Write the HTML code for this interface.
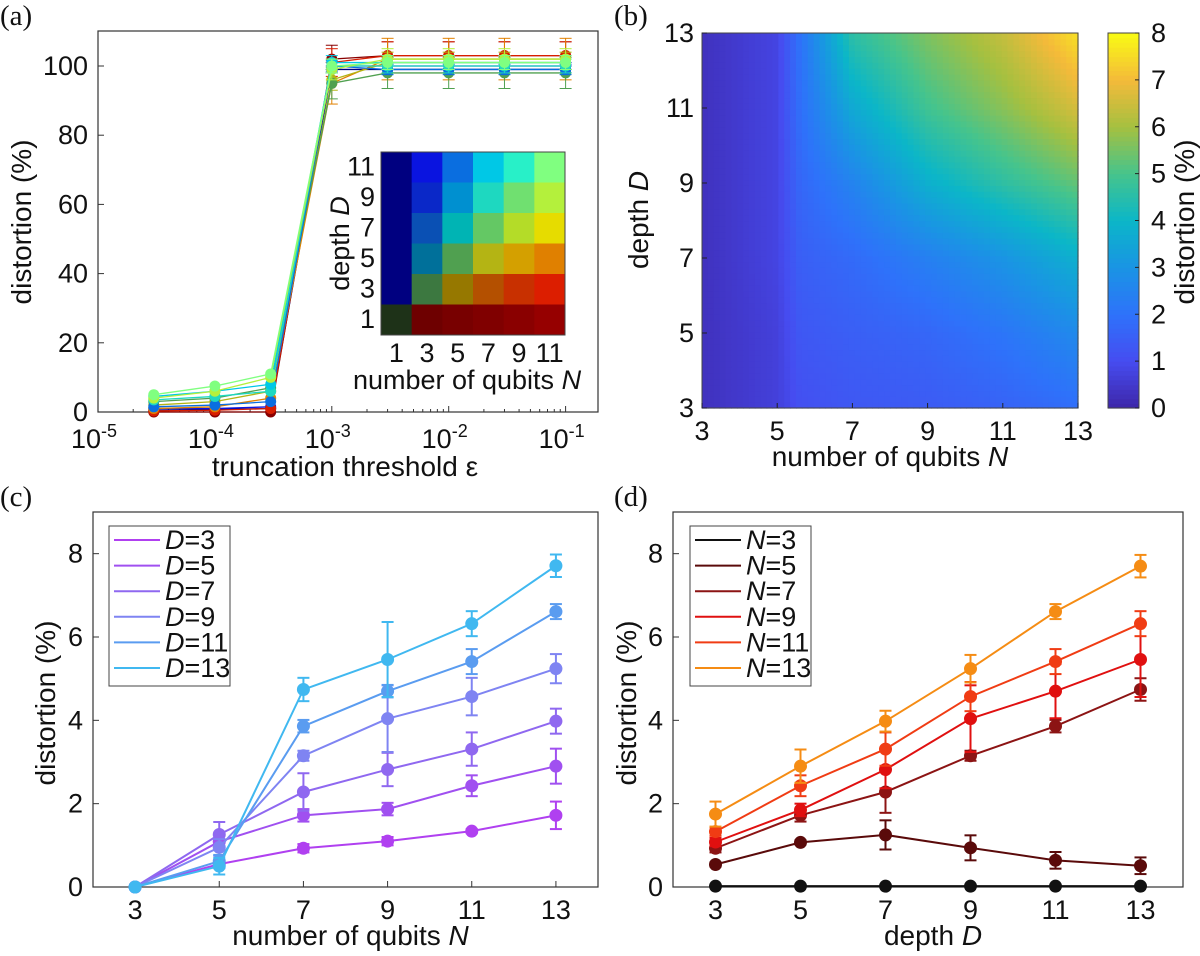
<!DOCTYPE html>
<html><head><meta charset="utf-8"><style>
html,body{margin:0;padding:0;background:#fff;}
svg{display:block;font-family:"Liberation Sans",sans-serif;}
.tk{font-size:27px;fill:#111;}
.lb{font-size:28px;fill:#111;}
.pl{font-family:"Liberation Serif",serif;font-size:29px;fill:#111;}
</style></head><body>
<svg id="fig" width="1200" height="956" viewBox="0 0 1200 956" xmlns="http://www.w3.org/2000/svg">
<text class="pl" x="0" y="25">(a)</text>
<text class="pl" x="614" y="25">(b)</text>
<text class="pl" x="0" y="506">(c)</text>
<text class="pl" x="614" y="506">(d)</text>
<g id="pa"></g>
<g id="pb"></g>
<g id="pc"></g>
<g id="pd"></g>
</svg>
<script>
// ---- panel (a) data ----
const epsVals = [3e-5, 1e-4, 3e-4, 1e-3, 3e-3, 1e-2, 3e-2, 1e-1];
const aColors = ['#000080','#0a14e0','#8a0000','#d81e00','#e08000','#b4b414','#50a050','#0a6ee0','#1ed8c0','#00c8e6','#b4f03c','#80ff80'];
const aSeries = [
 [0.5,0.8,1,99,99,99,99,99],
 [1,1,1.5,100,100,100,100,100],
 [0,0,0,102,103,103,103,103],
 [0.3,0.5,1,101,103,103,103,103],
 [1,1.5,4,95,102,102,102,102],
 [2,3,6,96,101,101,101,101],
 [3,4,7,95,98,98,98,98],
 [1.5,2,3,100,99,99,99,99],
 [3.5,4.5,6,100,100,100,100,100],
 [4.5,6,8,101,101,101,101,101],
 [4,6,10,99,102,102,102,102],
 [5,7.5,11,100,101,101,101,101]
];
const aErr = [1,1,4,4,6,3,4.5,1.5,2,2,3,2];
const aYTicks = [0,20,40,60,80,100];
const aXTicks = [-5,-4,-3,-2,-1];
const insetN = ['1','3','5','7','9','11'];
const insetD = ['11','9','7','5','3','1'];
const insetColors = [
 ['#000080','#0a14e0','#0a6ee0','#00c8e6','#28f0c8','#80ff80'],
 ['#000080','#0a28c8','#0090d0','#1ed8c0','#70e070','#b4f03c'],
 ['#000080','#0a50b4','#00b4b4','#64c864','#b4dc28','#e6dc00'],
 ['#000080','#00709a','#50a050','#b4b414','#d4a000','#e08000'],
 ['#000080','#3c7840','#967800','#b45000','#c83000','#dc1e00'],
 ['#1e3218','#6e0000','#780000','#800000','#8a0000','#960000']
];
// ---- panel (b) data ----
const hmN = [3,5,5.6,7,9,11,13];
const hmD = [3,5,7,9,11,13];
const hmVals = [
 [0.3,0.7,1.1,1.3,1.4,1.6,1.9],
 [0.3,0.7,1.3,1.5,1.7,2.1,2.7],
 [0.3,0.8,1.5,1.8,2.4,3.0,3.8],
 [0.3,0.8,1.7,2.5,3.8,4.6,5.3],
 [0.3,0.8,1.9,3.6,4.9,5.7,6.6],
 [0.3,0.8,2.0,4.6,5.6,6.4,7.6]
];
const hmTicks = [3,5,7,9,11,13];
const cbTicks = [0,1,2,3,4,5,6,7,8];
// ---- panel (c) data ----
const cN = [3,5,7,9,11,13];
const cLabels = ['3','5','7','9','11','13'];
const cColors = ['#b040f0','#a050f0','#8f68f0','#7f84f2','#5a9cf0','#40b8f0'];
const cVals = [
 [0,0.55,0.93,1.10,1.34,1.72],
 [0,1.09,1.72,1.87,2.43,2.90],
 [0,1.26,2.28,2.82,3.31,3.98],
 [0,0.95,3.15,4.04,4.57,5.24],
 [0,0.62,3.86,4.70,5.41,6.61],
 [0,0.50,4.74,5.46,6.32,7.71]
];
const cErr = [
 [0,0.1,0.1,0.1,0.05,0.33],
 [0,0.15,0.15,0.15,0.25,0.42],
 [0,0.3,0.45,0.4,0.4,0.3],
 [0,0.2,0.12,0.8,0.45,0.35],
 [0,0.15,0.15,0.15,0.3,0.18],
 [0,0.2,0.28,0.9,0.3,0.27]
];
// ---- panel (d) data ----
const dD = [3,5,7,9,11,13];
const dLabels = ['3','5','7','9','11','13'];
const dColors = ['#111111','#5a0a0a','#8c1414','#e01010','#f03c14','#f58c14'];
const dVals = [
 [0.02,0.02,0.02,0.02,0.02,0.02],
 [0.54,1.07,1.25,0.94,0.64,0.51],
 [0.93,1.72,2.28,3.15,3.86,4.74],
 [1.08,1.85,2.82,4.04,4.70,5.46],
 [1.33,2.43,3.31,4.57,5.41,6.32],
 [1.75,2.90,3.98,5.24,6.61,7.70]
];
const dErr = [
 [0,0,0,0,0,0],
 [0.05,0.05,0.35,0.3,0.2,0.2],
 [0.1,0.15,0.5,0.12,0.15,0.27],
 [0.1,0.15,0.45,0.8,0.65,0.9],
 [0.1,0.25,0.4,0.35,0.3,0.3],
 [0.3,0.4,0.25,0.33,0.18,0.27]
];
const yTicksCD = [0,2,4,6,8];

const NS='http://www.w3.org/2000/svg';
function mk(parent,tag,attrs,txt){const e=document.createElementNS(NS,tag);for(const k in attrs)e.setAttribute(k,attrs[k]);if(txt!==undefined)e.textContent=txt;parent.appendChild(e);return e;}

// ===== Panel A =====
(function(){
 const g=document.getElementById('pa');
 const L=98,R=598,T=31,B=412;
 const X=e=>L+(Math.log10(e)+5)*116.9;
 const Y=v=>B-(v/100)*(B-66);
 const frame=mk(g,'rect',{x:L,y:T,width:R-L,height:B-T,fill:'#fff',stroke:'#333','stroke-width':1.2});
 
 
 aYTicks.forEach(t=>{
  mk(g,'line',{x1:L,x2:L+6,y1:Y(t),y2:Y(t),stroke:'#333'});
  const tx=mk(g,'text',{class:'tk',x:L-10,y:Y(t)+9,'text-anchor':'end'},String(t));
  
  
 });
 aXTicks.forEach(p=>{
  const x=X(Math.pow(10,p));
  mk(g,'line',{x1:x,x2:x,y1:B,y2:B-6,stroke:'#333'});
  for(let k=2;k<10&&p<-1;k++){const xm=X(k*Math.pow(10,p));mk(g,'line',{x1:xm,x2:xm,y1:B,y2:B-3,stroke:'#333'});}
  const tx=mk(g,'text',{class:'tk',x:x-4,y:B+36,'text-anchor':'middle'});
  
  
  mk(tx,'tspan',{},'10');mk(tx,'tspan',{dy:-11,'font-size':'18'},String(p));
 });
 for(let i=0;i<aSeries.length;i++){
  const s=aSeries[i],c=aColors[i];
  const pts=s.map((v,j)=>X(epsVals[j])+','+Y(v)).join(' ');
  const pl=mk(g,'polyline',{points:pts,fill:'none',stroke:c,'stroke-width':1.3});
  
  
  s.forEach((v,j)=>{
   const x=X(epsVals[j]),y=Y(v);
   if(j>=3){const e=aErr[i];
    mk(g,'line',{x1:x,x2:x,y1:Y(v-e),y2:Y(v+e),stroke:c,'stroke-width':1});
    mk(g,'line',{x1:x-6,x2:x+6,y1:Y(v-e),y2:Y(v-e),stroke:c,'stroke-width':1});
    mk(g,'line',{x1:x-6,x2:x+6,y1:Y(v+e),y2:Y(v+e),stroke:c,'stroke-width':1});}
   const m=mk(g,'circle',{cx:x,cy:y,r:5.5,fill:c});
   
   
  });
 }
 const iL=381,iR=565,iT=152,iB=335,cw=(iR-iL)/6,ch=(iB-iT)/6;
 for(let r=0;r<6;r++)for(let c=0;c<6;c++){
  const cell=mk(g,'rect',{x:iL+c*cw,y:iT+r*ch,width:cw+0.5,height:ch+0.5,fill:insetColors[r][c]});
  
  
 }
 mk(g,'rect',{x:iL,y:iT,width:iR-iL,height:iB-iT,fill:'none',stroke:'#444','stroke-width':1});
 insetN.forEach((t,c)=>{const tx=mk(g,'text',{class:'tk',x:iL+(c+0.5)*cw,y:iB+27,'text-anchor':'middle','font-size':'22'},t);
  });
 insetD.forEach((t,r)=>{const tx=mk(g,'text',{class:'tk',x:iL-6,y:iT+(r+0.5)*ch+8,'text-anchor':'end','font-size':'22'},t);
  });
 const ixl=mk(g,'text',{class:'tk',x:(iL+iR)/2-6,y:iB+54,'text-anchor':'middle','font-size':'22'});
 
 mk(ixl,'tspan',{},'number of qubits ');mk(ixl,'tspan',{'font-style':'italic'},'N');
 const iyl=mk(g,'text',{class:'tk',transform:'translate(349,'+((iT+iB)/2)+') rotate(-90)','text-anchor':'middle','font-size':'22'});
 
 mk(iyl,'tspan',{},'depth ');mk(iyl,'tspan',{'font-style':'italic'},'D');
 const xl=mk(g,'text',{class:'lb',x:345,y:476,'text-anchor':'middle'},'truncation threshold ε');
 
 const yl=mk(g,'text',{class:'lb',transform:'translate(31,222) rotate(-90)','text-anchor':'middle'},'distortion (%)');
 
})();

// ===== Panel B =====
(function(){
 const g=document.getElementById('pb');
 const L=702,R=1078,T=33,B=408;
 const X=n=>L+(n-3)/10*(R-L), Y=d=>B-(d-3)/10*(B-T);
 const stops=[[0,[62,38,168]],[0.125,[70,76,240]],[0.25,[46,114,250]],[0.375,[26,148,228]],[0.5,[11,182,200]],[0.625,[70,196,140]],[0.75,[165,192,64]],[0.875,[244,186,58]],[1,[249,251,20]]];
 function cmap(t){t=Math.max(0,Math.min(1,t));for(let i=1;i<stops.length;i++){if(t<=stops[i][0]){const a=stops[i-1],b=stops[i],f=(t-a[0])/(b[0]-a[0]);return 'rgb('+a[1].map((v,k)=>Math.round(v+(b[1][k]-v)*f)).join(',')+')';}}return 'rgb(249,251,20)';}
 function idx(arr,v){let i=0;while(i<arr.length-2&&v>arr[i+1])i++;return i;}
 function interp(n,d){const i=idx(hmN,n),j=idx(hmD,d);
  const fx=(n-hmN[i])/(hmN[i+1]-hmN[i]),fy=(d-hmD[j])/(hmD[j+1]-hmD[j]);
  return hmVals[j][i]*(1-fx)*(1-fy)+hmVals[j][i+1]*fx*(1-fy)+hmVals[j+1][i]*(1-fx)*fy+hmVals[j+1][i+1]*fx*fy;}
 const steps=64,sw=(R-L)/steps,sh=(B-T)/steps;
 for(let a=0;a<steps;a++)for(let b=0;b<steps;b++){
  const n=3+(a+0.5)/steps*10,d=3+(b+0.5)/steps*10;
  const cell=mk(g,'rect',{x:L+a*sw,y:B-(b+1)*sh,width:sw+0.6,height:sh+0.6,fill:cmap(interp(n,d)/8)});
  
  
 }
 mk(g,'rect',{x:L,y:T,width:R-L,height:B-T,fill:'none',stroke:'#444','stroke-width':1});
 hmTicks.forEach(n=>{mk(g,'line',{x1:X(n),x2:X(n),y1:B,y2:B-5,stroke:'#222'});
  const tx=mk(g,'text',{class:'tk',x:X(n),y:B+32,'text-anchor':'middle'},String(n));
  });
 hmTicks.forEach(d=>{mk(g,'line',{x1:L,x2:L+5,y1:Y(d),y2:Y(d),stroke:'#222'});
  const tx=mk(g,'text',{class:'tk',x:L-8,y:Y(d)+9,'text-anchor':'end'},String(d));
  });
 const cL=1108,cR=1139,n=80,ch=(B-T)/n;
 for(let k=0;k<n;k++){const seg=mk(g,'rect',{x:cL,y:B-(k+1)*ch,width:cR-cL,height:ch+0.6,fill:cmap((k+0.5)/n)});
  }
 mk(g,'rect',{x:cL,y:T,width:cR-cL,height:B-T,fill:'none',stroke:'#444','stroke-width':1});
 cbTicks.forEach(t=>{const y=B-t/8*(B-T);mk(g,'line',{x1:cR-4,x2:cR,y1:y,y2:y,stroke:'#222'});
  const tx=mk(g,'text',{class:'tk',x:cR+12,y:y+9},String(t));
  });
 const cbl=mk(g,'text',{class:'lb',transform:'translate(1194,222) rotate(-90)','text-anchor':'middle','font-size':'25'},'distortion (%)');
 
 const xl=mk(g,'text',{class:'lb',x:890,y:466,'text-anchor':'middle'});
 
 mk(xl,'tspan',{},'number of qubits ');mk(xl,'tspan',{'font-style':'italic'},'N');
 const yl=mk(g,'text',{class:'lb',transform:'translate(648,220) rotate(-90)','text-anchor':'middle'});
 
 mk(yl,'tspan',{},'depth ');mk(yl,'tspan',{'font-style':'italic'},'D');
})();

// ===== Panels C & D =====
function linePanel(id,L,R,xs,labels,vals,errs,colors,legSym,legX,xTitle,xItalic,yTitleX){
 const g=document.getElementById(id);
 const T=512,B=887;
 const X=v=>L+(v-2)/12*(R-L), Y=v=>B-v/9*(B-T);
 const fr=mk(g,'rect',{x:L,y:T,width:R-L,height:B-T,fill:'#fff',stroke:'#333','stroke-width':1.2});
 
 yTicksCD.forEach(t=>{mk(g,'line',{x1:L,x2:L+6,y1:Y(t),y2:Y(t),stroke:'#333'});
  const tx=mk(g,'text',{class:'tk',x:L-10,y:Y(t)+9,'text-anchor':'end'},String(t));
  });
 xs.forEach((v,i)=>{mk(g,'line',{x1:X(v),x2:X(v),y1:B,y2:B-6,stroke:'#333'});
  const tx=mk(g,'text',{class:'tk',x:X(v),y:B+32,'text-anchor':'middle'},labels[i]);
  });
 vals.forEach((s,i)=>{const c=colors[i];
  const pl=mk(g,'polyline',{points:s.map((v,j)=>X(xs[j])+','+Y(v)).join(' '),fill:'none',stroke:c,'stroke-width':2});
  
  s.forEach((v,j)=>{const x=X(xs[j]),e=errs[i][j];
   if(e>0){mk(g,'line',{x1:x,x2:x,y1:Y(v-e),y2:Y(v+e),stroke:c,'stroke-width':2});
    mk(g,'line',{x1:x-6,x2:x+6,y1:Y(v-e),y2:Y(v-e),stroke:c,'stroke-width':2});
    mk(g,'line',{x1:x-6,x2:x+6,y1:Y(v+e),y2:Y(v+e),stroke:c,'stroke-width':2});}
   const m=mk(g,'circle',{cx:x,cy:Y(v),r:6.5,fill:c});
   
  });
 });
 const lg=mk(g,'rect',{x:legX,y:526,width:121,height:160,fill:'#fff',stroke:'#444','stroke-width':1});
 
 labels.forEach((t,i)=>{const y=540+i*25.6;
  mk(g,'line',{x1:legX+5,x2:legX+51,y1:y,y2:y,stroke:colors[i],'stroke-width':2});
  const tx=mk(g,'text',{class:'tk',x:legX+56,y:y+9,'font-size':'25'});
  
  mk(tx,'tspan',{'font-style':'italic'},legSym);mk(tx,'tspan',{},'='+t);
 });
 const xl=mk(g,'text',{class:'lb',x:(L+R)/2+5,y:945,'text-anchor':'middle'});
 
 mk(xl,'tspan',{},xTitle);mk(xl,'tspan',{'font-style':'italic'},xItalic);
 const yl=mk(g,'text',{class:'lb',transform:'translate('+yTitleX+',703) rotate(-90)','text-anchor':'middle'},'distortion (%)');
 
}
linePanel('pc',93,598,cN,cLabels,cVals,cErr,cColors,'D',109,'number of qubits  ','N',55);
linePanel('pd',673,1183,dD,dLabels,dVals,dErr,dColors,'N',690,'depth ','D',636);
</script>
</body></html>
